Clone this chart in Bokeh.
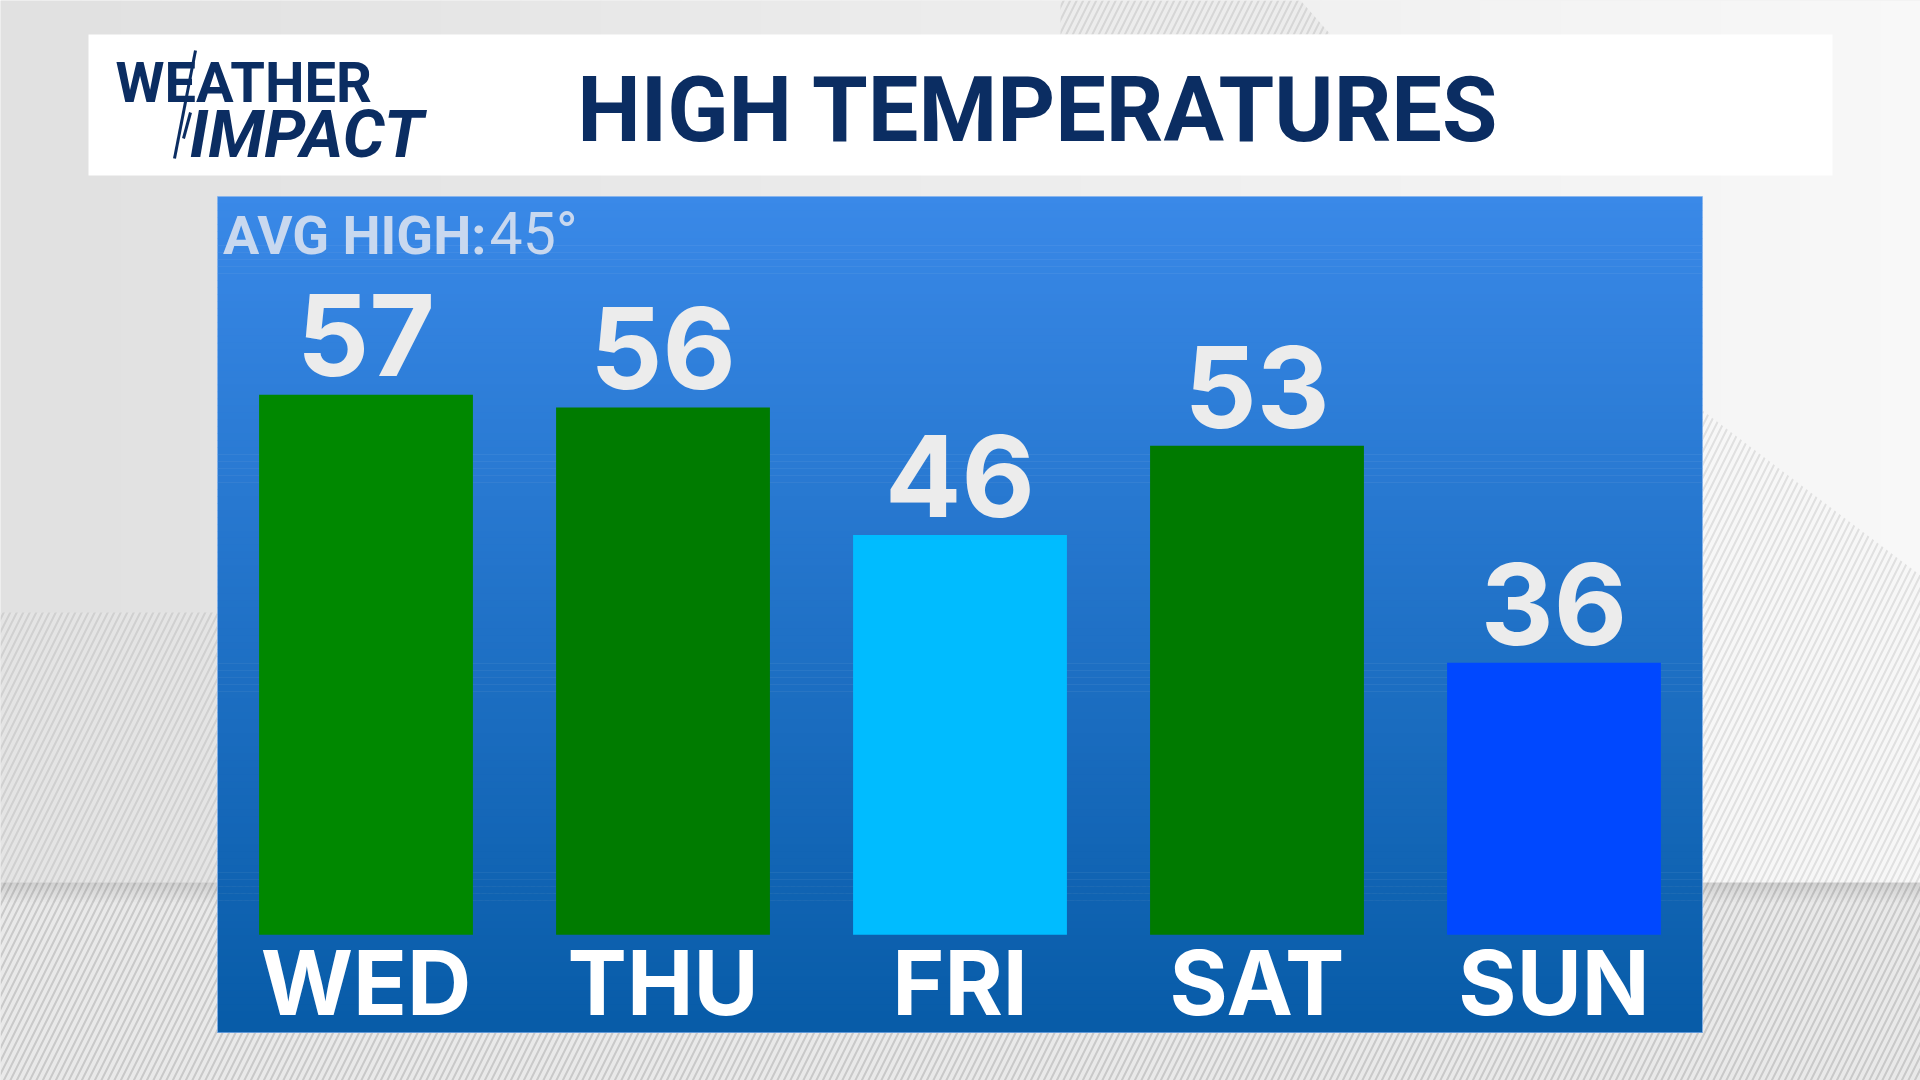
from bokeh.plotting import figure
from bokeh.models import Range1d
from bokeh.core.properties import value
from bokeh.embed import file_html
from bokeh.resources import INLINE

# ---------------- data ----------------
days = ["WED", "THU", "FRI", "SAT", "SUN"]
highs = [57, 56, 46, 53, 36]
bar_colors = ["#008800", "#007b00", "#00bcff", "#007a00", "#0048ff"]
avg_label = "AVG HIGH:"
avg_high = 45
title_text = "HIGH TEMPERATURES"
brand_top = "WEATHER"
brand_bottom = "IMPACT"

# ---------------- layout constants ----------------
W, H = 1920, 1080
PANEL_L, PANEL_R = 217, 1702
PPU = (PANEL_R - PANEL_L) / len(days)          # pixels per category
X_START = -PANEL_L / PPU
X_END = X_START + W / PPU
PX_PER_DEG = 12.77
BASE = 14.7                  # value at which bars start
BASE_PAGE_Y = 934.3
y_top = BASE + BASE_PAGE_Y / PX_PER_DEG
y_bot = BASE - (H - BASE_PAGE_Y) / PX_PER_DEG

# text drawn with "middle" baseline: shift from em-middle to alphabetic baseline
K_INTER = 0.364
K_ROBOTO = 0.342

NAVY = "#0b2d62"
n_days = len(days)
day_pos = [i + 0.5 for i in range(n_days)]

p = figure(width=W, height=H,
           x_range=Range1d(X_START, X_END),
           y_range=Range1d(y_bot, y_top),
           output_backend="svg", toolbar_location=None,
           x_axis_location=None, y_axis_location=None,
           min_border=0, outline_line_color=None,
           background_fill_color="#e6e6e6", border_fill_color="#e6e6e6")
p.grid.visible = False
p.extra_x_ranges = {"px": Range1d(0, W)}
p.extra_y_ranges = {"px": Range1d(H, 0)}
PX = dict(x_range_name="px", y_range_name="px")

# ---------------- background ----------------
n = 48
for i in range(n):
    t = i / (n - 1)
    c = int(225 + (248 - 225) * t)
    l = W * i / n
    r = W * (i + 1) / n
    p.quad(left=l, right=r + 1, top=0, bottom=H,
           fill_color=(c, c, c), line_color=None, **PX)

# top hatched strip
p.patch(x=[1060, 1300, 1330, 1060], y=[0, 0, 34, 34],
        fill_color="#ececec", line_color=None,
        hatch_pattern="/", hatch_color="#d6d6d6", hatch_scale=13, hatch_weight=2, **PX)
# left hatched block
p.quad(left=0, right=PANEL_L, top=612, bottom=882,
       fill_color="#e4e4e4", line_color=None,
       hatch_pattern="/", hatch_color="#d0d0d0", hatch_scale=13, hatch_weight=2, **PX)
# right hatched triangle
p.patch(x=[PANEL_R, W, W, PANEL_R], y=[410, 575, 882, 882],
        fill_color="#f7f7f7", line_color=None,
        hatch_pattern="/", hatch_color="#e0e0e0", hatch_scale=13, hatch_weight=2, **PX)
# lower band
p.quad(left=0, right=W, top=882, bottom=H,
       fill_color="#e9e9e9", line_color=None,
       hatch_pattern="/", hatch_color="#c9c9c9", hatch_scale=13, hatch_weight=2, **PX)
for k in range(10):
    p.quad(left=0, right=W, top=882 + k * 2, bottom=884 + k * 2,
           fill_color="black", fill_alpha=0.10 * (1 - k / 10), line_color=None, **PX)

# header box
p.quad(left=88, right=1832, top=34, bottom=175, fill_color="white", line_color=None, **PX)

# ---------------- panel (gradient) ----------------
ns = 120
ptop, pbot = 196, 1032
c_top = (58, 137, 232)
c_bot = (8, 92, 168)
for i in range(ns):
    t = i / (ns - 1)
    col = tuple(int(a + (b - a) * t) for a, b in zip(c_top, c_bot))
    yt = ptop + (pbot - ptop) * i / ns
    yb = ptop + (pbot - ptop) * (i + 1) / ns
    p.quad(left=0, right=n_days, top=yt, bottom=yb + 0.6,
           fill_color=col, line_color=None, y_range_name="px")
p.quad(left=0, right=n_days, top=ptop, bottom=pbot, fill_color=None,
       line_color="#86b4ee", line_width=1, line_alpha=0.7, y_range_name="px")

# ---------------- bars ----------------
p.vbar(x=day_pos, top=highs, bottom=BASE, width=0.72, fill_color=bar_colors, line_color=None)

# value labels (baseline 18px above bar top)
VS = 113
p.text(x=day_pos, y=highs, text=[str(v) for v in highs],
       text_font=value("Inter"), text_font_style="bold", text_font_size=f"{VS}px",
       text_color="#ececec", text_align="center", text_baseline="middle",
       y_offset=-18 - K_INTER * VS)

# day labels (baseline 80px below bar bottom)
DS = 89
p.text(x=day_pos, y=[BASE] * n_days, text=days,
       text_font=value("Inter"), text_font_style="bold", text_font_size=f"{DS}px",
       text_color="white", text_align="center", text_baseline="middle",
       y_offset=80 - K_INTER * DS)

# avg high
AS = 54
p.text(x=[486], y=[253 - K_ROBOTO * AS], text=[avg_label],
       text_font=value("Roboto"), text_font_style="bold", text_font_size=f"{AS}px",
       text_color="#c8d8ef", text_align="right", text_baseline="middle", **PX)
AS2 = 59
p.text(x=[489], y=[253 - K_ROBOTO * AS2], text=[f"{avg_high}°"],
       text_font=value("Roboto"), text_font_style="normal", text_font_size=f"{AS2}px",
       text_color="#c8d8ef", text_align="left", text_baseline="middle", **PX)

# ---------------- header texts ----------------
TS = 90
p.text(x=[1038], y=[141 - K_ROBOTO * TS], text=[title_text],
       text_font=value("Roboto"), text_font_style="bold", text_font_size=f"{TS}px",
       text_color=NAVY, text_align="center", text_baseline="middle", **PX)
S1 = 56
p.text(x=[115], y=[102 - K_ROBOTO * S1], text=[brand_top],
       text_font=value("Roboto"), text_font_style="bold", text_font_size=f"{S1}px",
       text_color=NAVY, text_align="left", text_baseline="middle", **PX)
S2 = 66
p.text(x=[189], y=[157 - K_ROBOTO * S2], text=[brand_bottom],
       text_font=value("Roboto"), text_font_style="bold italic", text_font_size=f"{S2}px",
       text_color=NAVY, text_align="left", text_baseline="middle", **PX)
p.segment(x0=[195, 190], y0=[50, 112], x1=[174, 183], y1=[158, 138],
          line_color=NAVY, line_width=3, **PX)

open("out.html", "w").write(file_html(p, INLINE))
